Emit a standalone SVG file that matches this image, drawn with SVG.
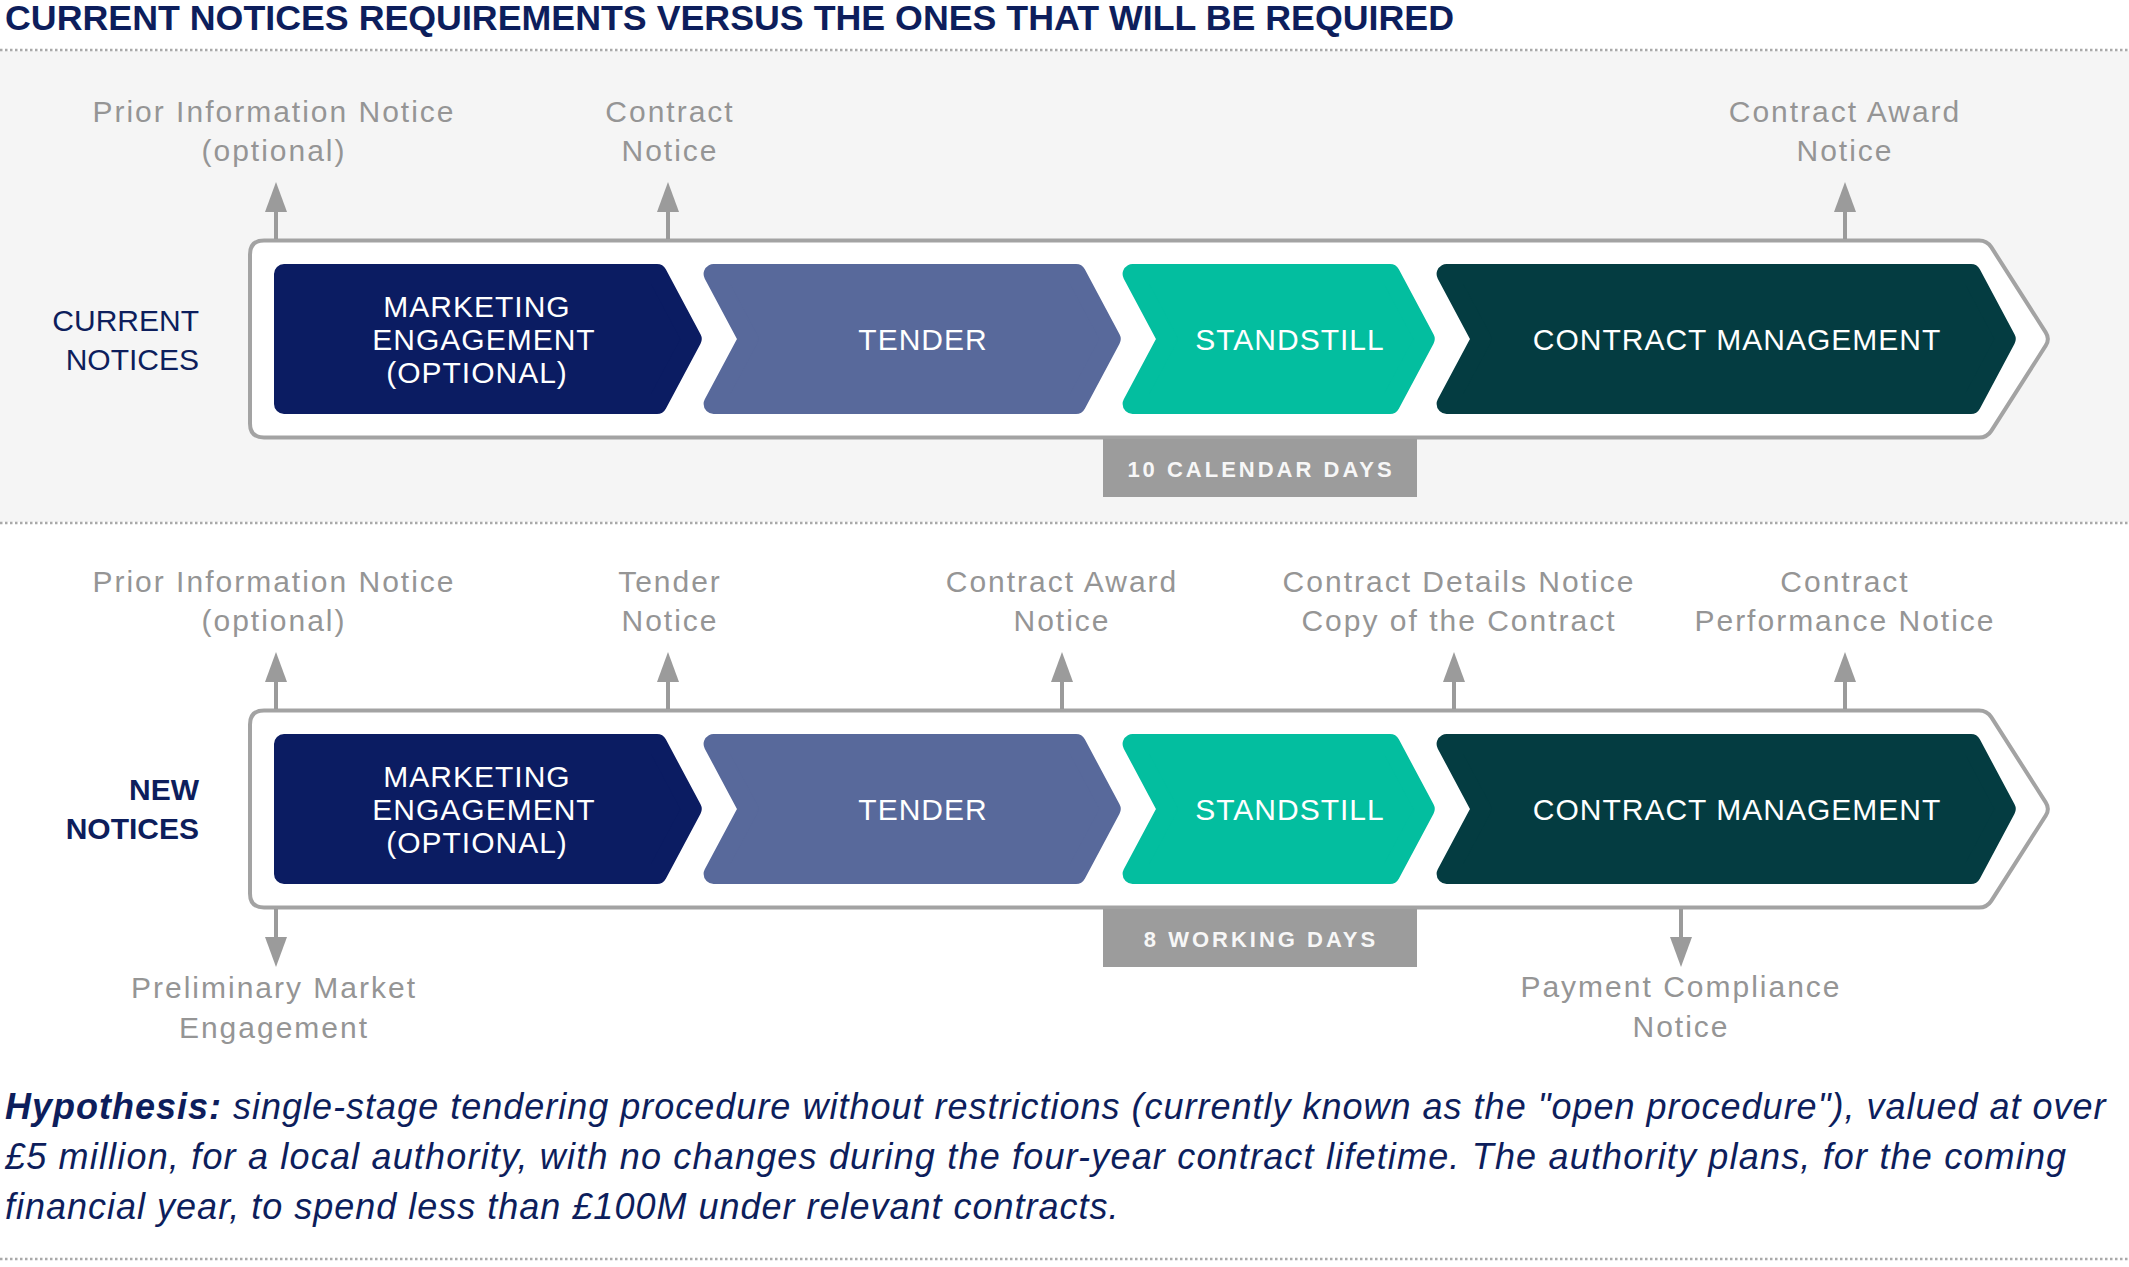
<svg xmlns="http://www.w3.org/2000/svg" width="2129" height="1267" viewBox="0 0 2129 1267">
<style>
text{font-family:"Liberation Sans",Arial,sans-serif}
.title{font-size:35px;font-weight:bold;fill:#0d1e5c}
.dots{stroke:#a9a9a9;stroke-width:2.5;stroke-dasharray:2.5 2.5;fill:none}
.frame{fill:#fff;stroke:#a3a3a3;stroke-width:4}
.chev{stroke-width:20;stroke-linejoin:round}
.mkt{fill:#0b1c62;stroke:#0b1c62}
.ten{fill:#58699b;stroke:#58699b}
.sta{fill:#03be9f;stroke:#03be9f}
.cm{fill:#043c41;stroke:#043c41}
.ph{font-size:30px;fill:#fff;letter-spacing:1px;text-anchor:middle}
.lbl{font-size:30px;fill:#959595;letter-spacing:2px;text-anchor:middle}
.row{font-size:30px;fill:#0d1e5c;text-anchor:end}
.box{fill:#9c9c9c}
.boxt{font-size:22px;font-weight:bold;fill:#f7f7f7;letter-spacing:3px;text-anchor:middle}
.conn line{stroke:#9b9b9b;stroke-width:4;marker-end:url(#ah)}
.hyp{font-size:36px;font-style:italic;fill:#0d1e5c;letter-spacing:1px}
</style>
<defs>
<marker id="ah" viewBox="0 0 30 22" refX="0" refY="11" markerWidth="30" markerHeight="22" markerUnits="userSpaceOnUse" orient="auto"><path d="M0,0 L30,11 L0,22 Z" fill="#9b9b9b"/></marker>
<path id="frameShape" d="M 264 240.5 H 1979 Q 1987 240.5 1991.3 247.2 L 2045.7 332.3 Q 2050 339 2045.7 345.7 L 1991.3 430.8 Q 1987 437.5 1979 437.5 H 264 Q 250 437.5 250 423.5 V 254.5 Q 250 240.5 264 240.5 Z"/>
</defs>
<rect x="0" y="0" width="2129" height="1267" fill="#fff"/>
<rect x="0" y="51" width="2129" height="471" fill="#f5f5f5"/>
<g id="title"><text class="title" x="5" y="30" textLength="1449" lengthAdjust="spacingAndGlyphs">CURRENT NOTICES REQUIREMENTS VERSUS THE ONES THAT WILL BE REQUIRED</text></g>
<g id="separators">
<line class="dots" x1="0" y1="50" x2="2129" y2="50"/>
<line class="dots" x1="0" y1="523" x2="2129" y2="523"/>
<line class="dots" x1="0" y1="1259" x2="2129" y2="1259"/>
</g>

<!-- CURRENT row -->
<g id="current-label"><text class="row" x="199" y="331">CURRENT</text><text class="row" x="199" y="370">NOTICES</text></g>
<g id="current-frame"><use href="#frameShape" class="frame"/></g>
<g id="current-marketing"><polygon class="chev mkt" points="284,274 657,274 691.7,339 657,404 284,404"/><text class="ph" x="477" y="317">MARKETING</text><text class="ph" x="484" y="350">ENGAGEMENT</text><text class="ph" x="477" y="383">(OPTIONAL)</text></g>
<g id="current-tender"><polygon class="chev ten" points="713.6,274 1076,274 1110.7,339 1076,404 713.6,404 748.3,339"/><text class="ph" x="923" y="350">TENDER</text></g>
<g id="current-standstill"><polygon class="chev sta" points="1132.6,274 1390,274 1424.7,339 1390,404 1132.6,404 1167.3,339"/><text class="ph" x="1290" y="350">STANDSTILL</text></g>
<g id="current-contract-management"><polygon class="chev cm" points="1446.6,274 1971,274 2005.7,339 1971,404 1446.6,404 1481.3,339"/><text class="ph" x="1737" y="350">CONTRACT MANAGEMENT</text></g>
<g id="current-standstill-days"><rect class="box" x="1103" y="439" width="314" height="58"/><text class="boxt" x="1261" y="477">10 CALENDAR DAYS</text></g>
<g id="current-pin"><text class="lbl" x="274" y="122">Prior Information Notice</text><text class="lbl" x="274" y="161">(optional)</text></g>
<g id="current-contract-notice"><text class="lbl" x="670" y="122">Contract</text><text class="lbl" x="670" y="161">Notice</text></g>
<g id="current-award-notice"><text class="lbl" x="1845" y="122">Contract Award</text><text class="lbl" x="1845" y="161">Notice</text></g>

<!-- NEW row -->
<g id="new-label"><text class="row" x="199" y="800" font-weight="bold">NEW</text><text class="row" x="199" y="839" font-weight="bold">NOTICES</text></g>
<g id="new-frame" transform="translate(0,470)"><use href="#frameShape" class="frame"/></g>
<g id="new-marketing" transform="translate(0,470)"><polygon class="chev mkt" points="284,274 657,274 691.7,339 657,404 284,404"/><text class="ph" x="477" y="317">MARKETING</text><text class="ph" x="484" y="350">ENGAGEMENT</text><text class="ph" x="477" y="383">(OPTIONAL)</text></g>
<g id="new-tender" transform="translate(0,470)"><polygon class="chev ten" points="713.6,274 1076,274 1110.7,339 1076,404 713.6,404 748.3,339"/><text class="ph" x="923" y="350">TENDER</text></g>
<g id="new-standstill" transform="translate(0,470)"><polygon class="chev sta" points="1132.6,274 1390,274 1424.7,339 1390,404 1132.6,404 1167.3,339"/><text class="ph" x="1290" y="350">STANDSTILL</text></g>
<g id="new-contract-management" transform="translate(0,470)"><polygon class="chev cm" points="1446.6,274 1971,274 2005.7,339 1971,404 1446.6,404 1481.3,339"/><text class="ph" x="1737" y="350">CONTRACT MANAGEMENT</text></g>
<g id="new-standstill-days"><rect class="box" x="1103" y="909" width="314" height="58"/><text class="boxt" x="1261" y="947">8 WORKING DAYS</text></g>
<g id="new-pin"><text class="lbl" x="274" y="592">Prior Information Notice</text><text class="lbl" x="274" y="631">(optional)</text></g>
<g id="new-tender-notice"><text class="lbl" x="670" y="592">Tender</text><text class="lbl" x="670" y="631">Notice</text></g>
<g id="new-award-notice"><text class="lbl" x="1062" y="592">Contract Award</text><text class="lbl" x="1062" y="631">Notice</text></g>
<g id="new-details-notice"><text class="lbl" x="1459" y="592">Contract Details Notice</text><text class="lbl" x="1459" y="631">Copy of the Contract</text></g>
<g id="new-performance-notice"><text class="lbl" x="1845" y="592">Contract</text><text class="lbl" x="1845" y="631">Performance Notice</text></g>
<g id="new-pme"><text class="lbl" x="274" y="998">Preliminary Market</text><text class="lbl" x="274" y="1038">Engagement</text></g>
<g id="new-payment-notice"><text class="lbl" x="1681" y="997">Payment Compliance</text><text class="lbl" x="1681" y="1037">Notice</text></g>

<g id="connectors" class="conn">
<line x1="276" y1="239" x2="276" y2="212"/>
<line x1="668" y1="239" x2="668" y2="212"/>
<line x1="1845" y1="239" x2="1845" y2="212"/>
<line x1="276" y1="709" x2="276" y2="682"/>
<line x1="668" y1="709" x2="668" y2="682"/>
<line x1="1062" y1="709" x2="1062" y2="682"/>
<line x1="1454" y1="709" x2="1454" y2="682"/>
<line x1="1845" y1="709" x2="1845" y2="682"/>
<line x1="276" y1="909" x2="276" y2="937"/>
<line x1="1681" y1="909" x2="1681" y2="937"/>
</g>

<g id="hypothesis">
<text class="hyp" x="5" y="1119"><tspan font-weight="bold">Hypothesis:</tspan> single-stage tendering procedure without restrictions (currently known as the &quot;open procedure&quot;), valued at over</text>
<text class="hyp" x="5" y="1169" style="letter-spacing:1.18px">£5 million, for a local authority, with no changes during the four-year contract lifetime. The authority plans, for the coming</text>
<text class="hyp" x="5" y="1219">financial year, to spend less than £100M under relevant contracts.</text>
</g>
</svg>
